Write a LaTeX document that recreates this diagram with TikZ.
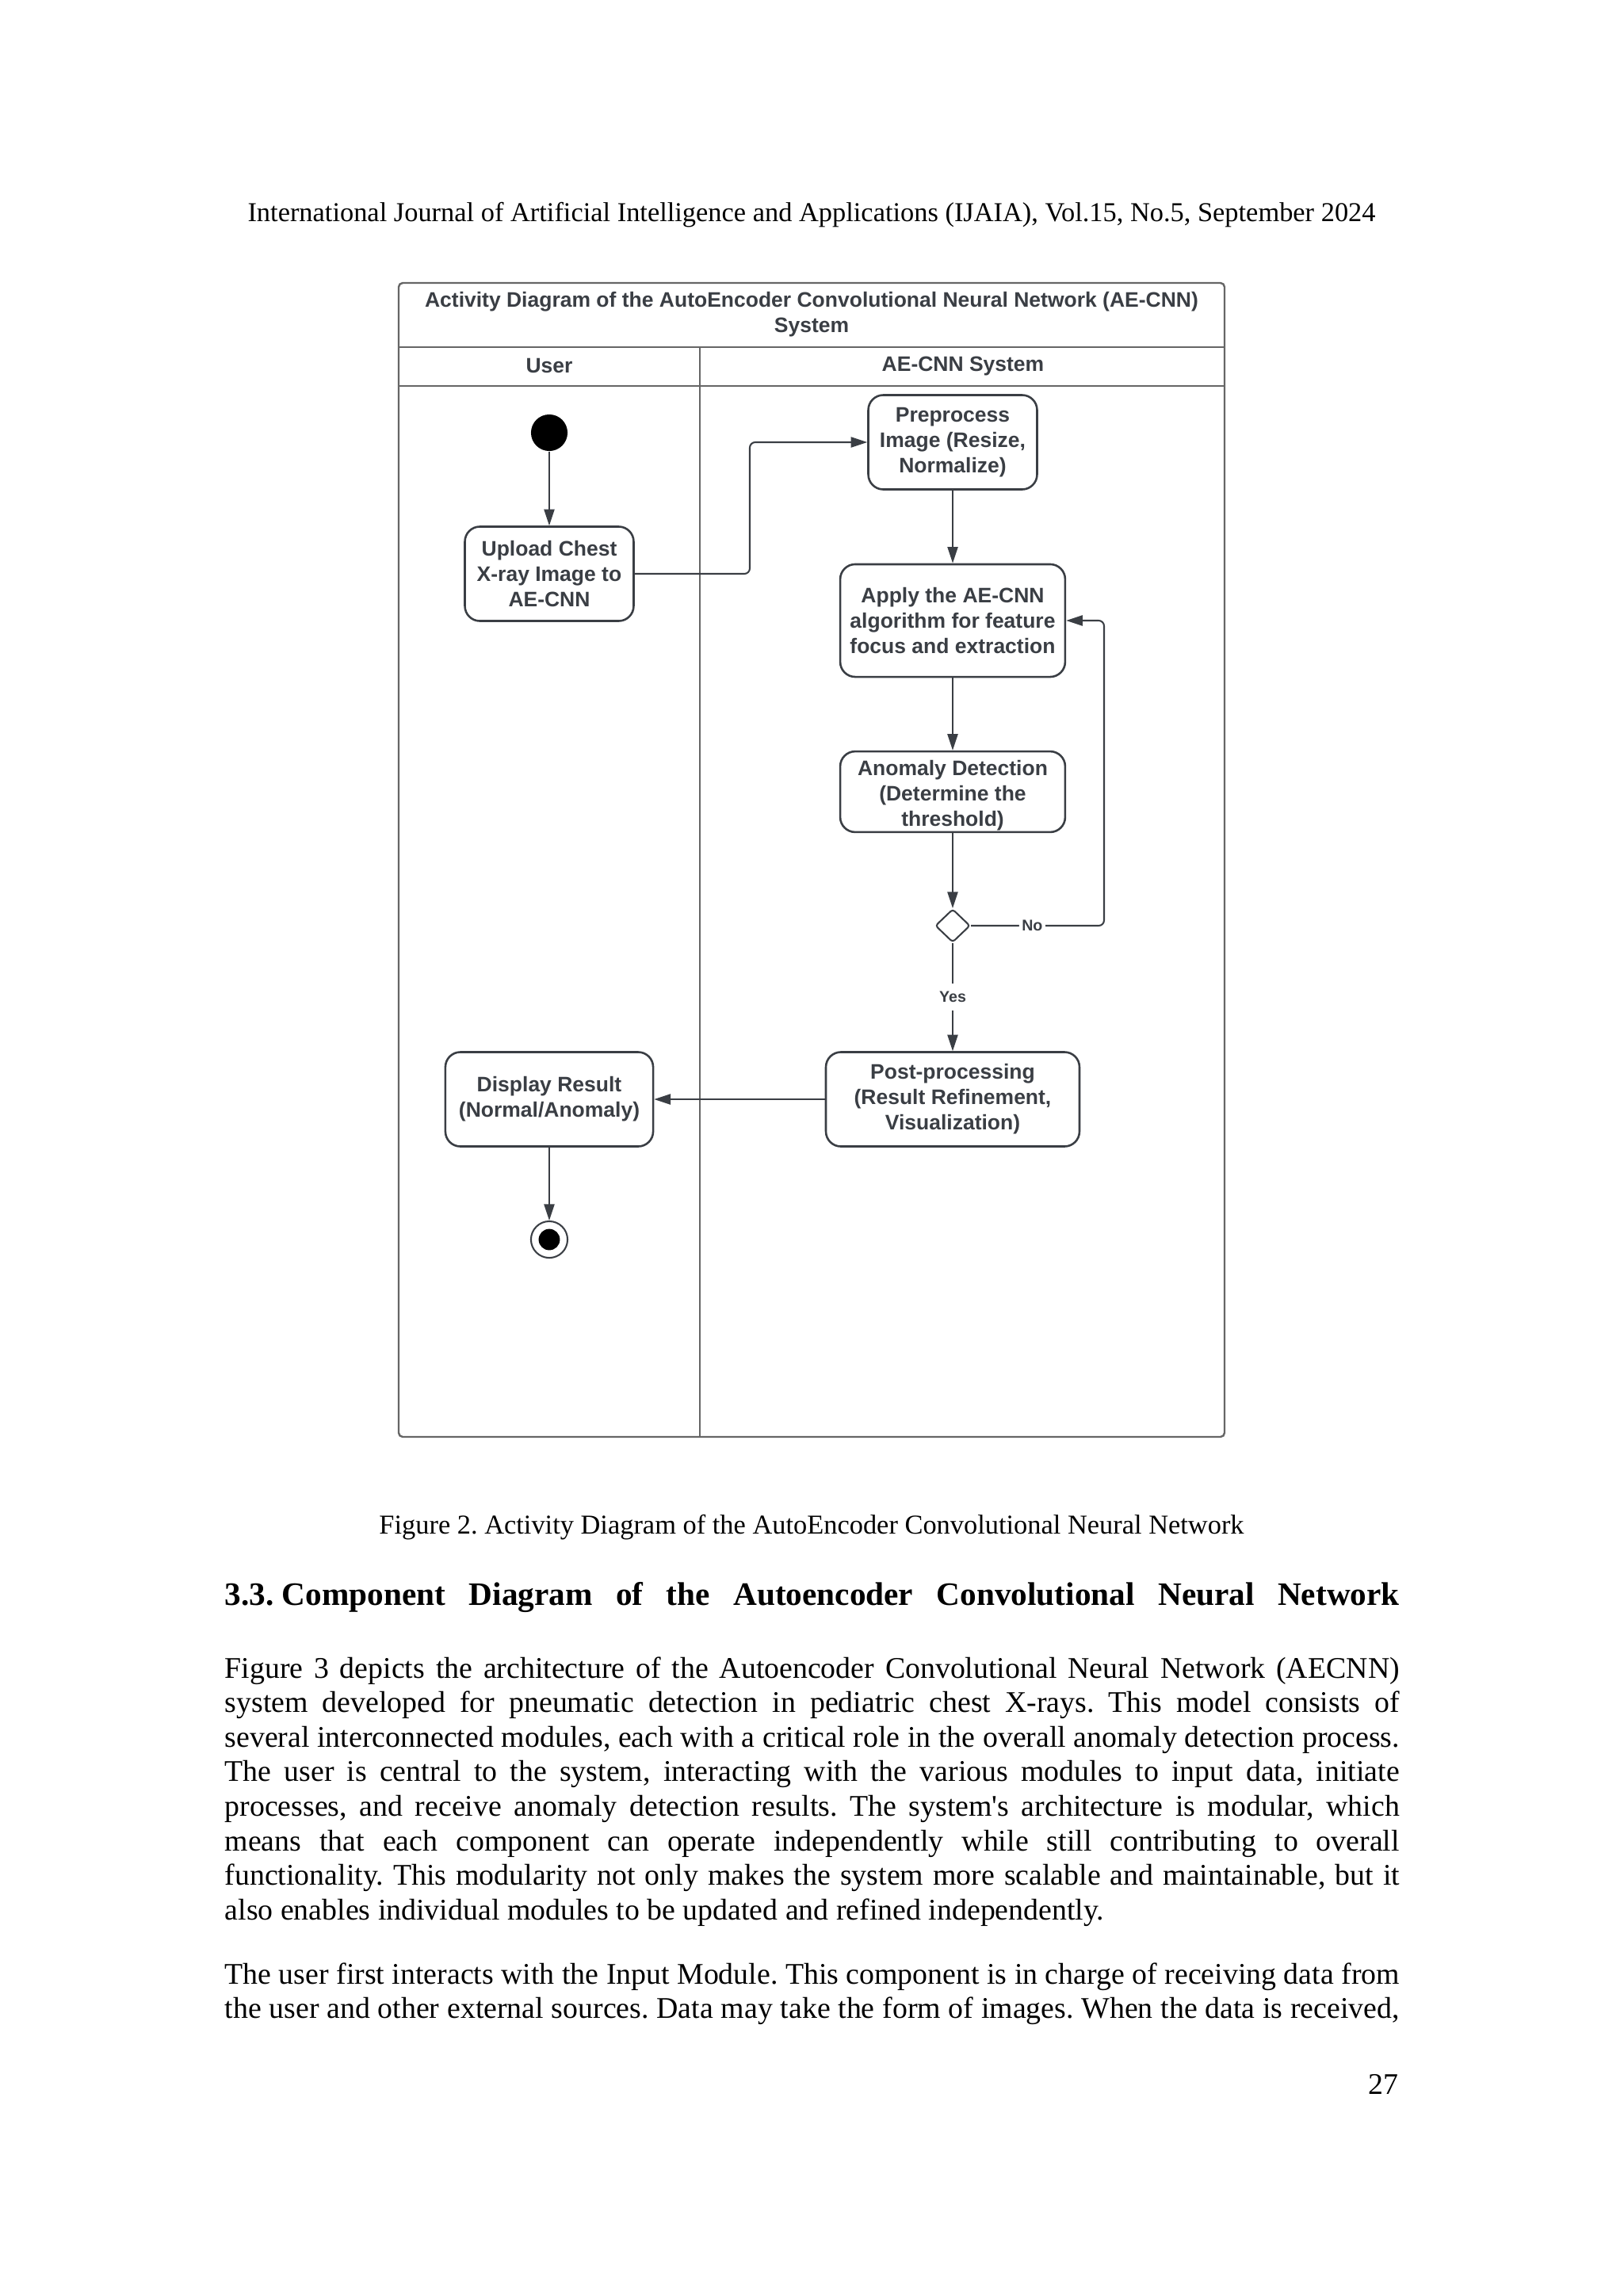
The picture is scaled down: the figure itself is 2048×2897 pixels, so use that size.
\documentclass[tikz,border=0pt]{standalone}
\usepackage{fontspec}
\setmainfont{Liberation Serif}
\newfontfamily\diagfont{Liberation Sans}
\usetikzlibrary{arrows.meta,shapes.geometric}
\definecolor{ink}{HTML}{3A3E44}
\definecolor{framec}{HTML}{666666}
\newlength{\textW}
\setlength{\textW}{430.8pt}
\frenchspacing
\begin{document}
\frenchspacing
\begin{tikzpicture}[x=0.29066pt,y=-0.29066pt,
  act/.style={draw=ink, line width=0.75pt, rounded corners=5.5pt, fill=white, align=center,
    font=\diagfont\bfseries\fontsize{7.7}{9.3}\selectfont, text=ink, inner sep=0pt},
  lanetxt/.style={font=\diagfont\bfseries\fontsize{7.7}{9.3}\selectfont, text=ink, align=center, inner sep=0pt},
  conn/.style={draw=ink, line width=0.6pt, -{Triangle[length=6pt,width=3.8pt]}},
  lbl/.style={font=\diagfont\bfseries\fontsize{5.7}{6.5}\selectfont, text=ink, fill=white, inner sep=1pt},
  framel/.style={draw=framec, line width=0.7pt},
  bodytext/.style={font=\fontsize{11}{12.67}\selectfont, inner sep=0pt, anchor=base west},
]
\useasboundingbox (0,0) rectangle (2048,2897);
\fill[white] (0,0) rectangle (2048,2897);

% page header
\node[font=\fontsize{10}{12}\selectfont, inner sep=0pt, anchor=base] (header) at (1024,279)
  {International Journal of Artificial Intelligence and Applications (IJAIA), Vol.15, No.5, September 2024};

% swimlane frame
\draw[framel, rounded corners=1.5pt] (503,357) rectangle (1545,1813);
\draw[framel] (503,438) -- (1545,438);
\draw[framel] (503,487) -- (1545,487);
\draw[framel] (883,438) -- (883,1813);
\node[lanetxt] (title) at (1024,397) {Activity Diagram of the AutoEncoder Convolutional Neural Network (AE-CNN)\\System};
\node[lanetxt] (laneU) at (693,462) {User};
\node[lanetxt] (laneS) at (1215,462) {AE-CNN System};

% nodes
\node[circle, fill=black, minimum size=13.4pt, inner sep=0pt] (start) at (693,546) {};
\node[act, minimum width=61.9pt, minimum height=34.6pt] (upload) at (693,724) {Upload Chest\\X-ray Image to\\AE-CNN};
\node[act, minimum width=61.9pt, minimum height=34.6pt] (pre) at (1202,558) {Preprocess\\Image (Resize,\\Normalize)};
\node[act, minimum width=82.5pt, minimum height=41.3pt] (apply) at (1202,783) {Apply the AE-CNN\\algorithm for feature\\focus and extraction};
\node[act, minimum width=82.5pt, minimum height=29.6pt] (anom) at (1202,999) {\rule{0pt}{8.3pt}Anomaly Detection\\(Determine the\\threshold)};
\node[diamond, draw=ink, line width=0.6pt, rounded corners=1pt, fill=white, minimum width=12.8pt, minimum height=12.2pt, inner sep=0pt] (dia) at (1202,1168) {};
\node[act, minimum width=93pt, minimum height=34.6pt] (post) at (1202,1387) {Post-processing\\(Result Refinement,\\Visualization)};
\node[act, minimum width=76.2pt, minimum height=34.6pt] (display) at (693,1387) {Display Result\\(Normal/Anomaly)};
\node[circle, draw=ink, line width=0.6pt, fill=white, minimum size=13.4pt, inner sep=0pt] (end) at (693,1564) {};
\node[circle, fill=black, minimum size=7.8pt, inner sep=0pt] (endin) at (693,1564) {};

\coordinate (j1) at (946,724);
\coordinate (j2) at (946,558);
\coordinate (n1) at (1393,1168);
\coordinate (n2) at (1393,783);

% connectors
\draw[conn] (start) -- (upload);
\draw[conn, rounded corners=2pt] (upload.east) -- (j1) -- (j2) -- (pre.west);
\draw[conn] (pre) -- (apply);
\draw[conn] (apply) -- (anom);
\draw[conn] (anom) -- (dia);
\draw[conn, rounded corners=2pt] (dia.east) -- node[lbl, pos=0.46] (nolbl) {No} (n1) -- (n2) -- (apply.east);
\draw[conn] (dia.south) -- node[lbl, pos=0.5, inner ysep=3pt] (yeslbl) {Yes} (post.north);
\draw[conn] (post.west) -- (display.east);
\draw[conn] (display) -- (end);

% caption and text
\node[font=\fontsize{10}{12}\selectfont, inner sep=0pt, anchor=base] (caption) at (1024,1935)
  {Figure 2. Activity Diagram of the AutoEncoder Convolutional Neural Network};
\node[font=\fontsize{12}{14}\selectfont\bfseries, inner sep=0pt, anchor=base west] (heading) at (283,2025)
  {\makebox[\textW][s]{3.3.\hspace{3pt}Component Diagram of the Autoencoder Convolutional Neural Network}};

\node[bodytext] (p1a) at (283,2117) {\makebox[\textW][s]{Figure 3 depicts the architecture of the Autoencoder Convolutional Neural Network (AECNN)}};
\node[bodytext] (p1b) at (283,2160.6) {\makebox[\textW][s]{system developed for pneumatic detection in pediatric chest X-rays. This model consists of}};
\node[bodytext] (p1c) at (283,2204.2) {\makebox[\textW][s]{several interconnected modules, each with a critical role in the overall anomaly detection process.}};
\node[bodytext] (p1d) at (283,2247.8) {\makebox[\textW][s]{The user is central to the system, interacting with the various modules to input data, initiate}};
\node[bodytext] (p1e) at (283,2291.4) {\makebox[\textW][s]{processes, and receive anomaly detection results. The system\textquotesingle s architecture is modular, which}};
\node[bodytext] (p1f) at (283,2335) {\makebox[\textW][s]{means that each component can operate independently while still contributing to overall}};
\node[bodytext] (p1g) at (283,2378.6) {\makebox[\textW][s]{functionality. This modularity not only makes the system more scalable and maintainable, but it}};
\node[bodytext] (p1h) at (283,2422.2) {also enables individual modules to be updated and refined independently.};

\node[bodytext] (p2a) at (283,2503) {\makebox[\textW][s]{The user first interacts with the Input Module. This component is in charge of receiving data from}};
\node[bodytext] (p2b) at (283,2546.6) {\makebox[\textW][s]{the user and other external sources. Data may take the form of images. When the data is received,}};

\node[font=\fontsize{11}{13}\selectfont, inner sep=0pt, anchor=base east] (pagenum) at (1765,2642) {27};
\end{tikzpicture}
\end{document}
